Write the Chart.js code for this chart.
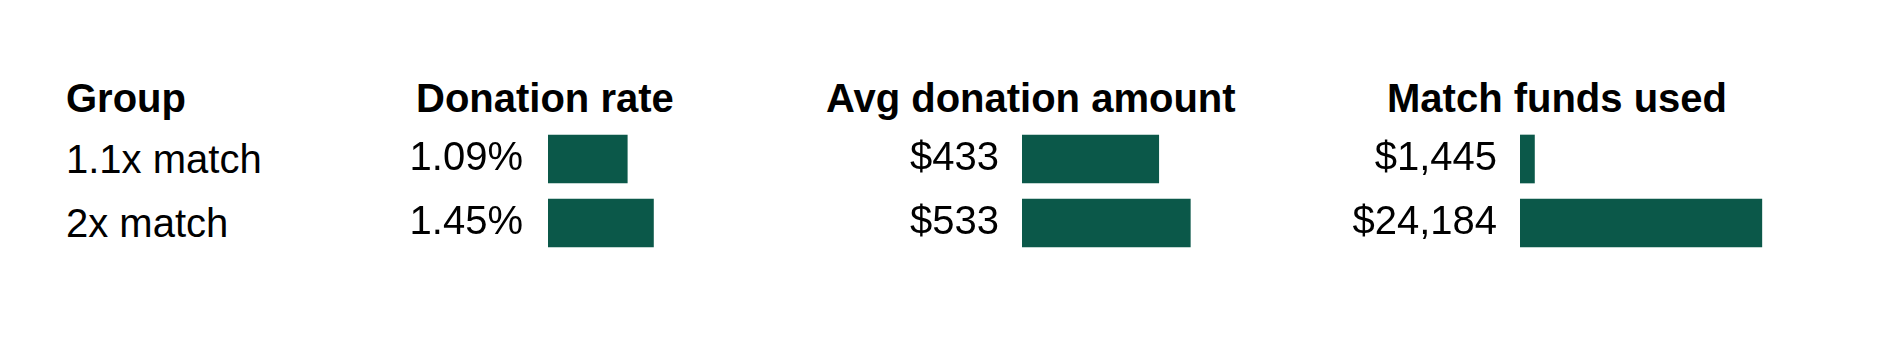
<!DOCTYPE html>
<html>
<head>
<meta charset="utf-8">
<script src="https://cdn.jsdelivr.net/npm/chart.js@4.4.1/dist/chart.umd.min.js"></script>
<style>
  html, body { margin: 0; padding: 0; background: #fff; }
  body { width: 1878px; height: 342px; position: relative; overflow: hidden;
         font-family: "Liberation Sans", Arial, Helvetica, sans-serif; color: #000; }
  .txt { position: absolute; font-size: 40px; line-height: 40px; white-space: nowrap; }
  .head { font-weight: bold; }
  .box { position: absolute; }
</style>
</head>
<body>
<div id="labels"></div>
<div class="box" style="left:398px; top:127px;"><canvas id="rate" width="350" height="128"></canvas></div>
<div class="box" style="left:872px; top:127px;"><canvas id="avg" width="450" height="128"></canvas></div>
<div class="box" style="left:1340px; top:127px;"><canvas id="funds" width="480" height="128"></canvas></div>
<script>
// dados do grafico
var grupos = ["1.1x match", "2x match"];
var taxaDoacao = [1.09, 1.45];       // %
var mediaDoacao = [433, 533];        // $
var fundosUsados = [1445, 24184];    // $
var titulos = ["Group", "Donation rate", "Avg donation amount", "Match funds used"];

var corBarra = "#0b5849";
Chart.defaults.font.family = '"Liberation Sans", Arial, Helvetica, sans-serif';

// textos (cabecalhos e grupos)
var caixa = document.getElementById("labels");
var xTitulos = [66, 416, 826, 1387];
for (var i = 0; i < titulos.length; i++) {
    var d = document.createElement("div");
    d.className = "txt head";
    d.style.left = xTitulos[i] + "px";
    d.style.top = "78px";
    d.textContent = titulos[i];
    caixa.appendChild(d);
}
for (var j = 0; j < grupos.length; j++) {
    var g = document.createElement("div");
    g.className = "txt";
    g.style.left = "66px";
    g.style.top = (139 + j * 64) + "px";
    g.textContent = grupos[j];
    caixa.appendChild(g);
}

function dinheiro(v) {
    return "$" + v.toLocaleString("en-US");
}

function criarGrafico(id, valores, maximo, larguraEixo, formato) {
    var ctx = document.getElementById(id).getContext("2d");
    return new Chart(ctx, {
        type: "bar",
        data: {
            labels: grupos,
            datasets: [{
                data: valores,
                backgroundColor: corBarra,
                borderWidth: 0,
                barThickness: 48
            }]
        },
        options: {
            indexAxis: "y",
            responsive: false,
            animation: false,
            layout: { padding: 0 },
            plugins: { legend: { display: false }, tooltip: { enabled: false } },
            scales: {
                x: { display: false, min: 0, max: maximo },
                y: {
                    border: { display: false },
                    grid: { display: false, drawTicks: false },
                    ticks: {
                        color: "#000",
                        padding: larguraEixo.pad,
                        font: { size: 40 },
                        callback: function(v, idx) { return formato(valores[idx]); }
                    },
                    afterFit: function(scale) {
                        scale.width = larguraEixo.w;
                        scale.paddingTop = 0;
                        scale.paddingBottom = 0;
                    }
                }
            }
        }
    });
}

criarGrafico("rate", taxaDoacao, 2.75, { w: 150, pad: 25 }, function(v) { return v.toFixed(2) + "%"; });
criarGrafico("avg", mediaDoacao, 950, { w: 150, pad: 23 }, dinheiro);
criarGrafico("funds", fundosUsados, 30000, { w: 180, pad: 23 }, dinheiro);
</script>
</body>
</html>
